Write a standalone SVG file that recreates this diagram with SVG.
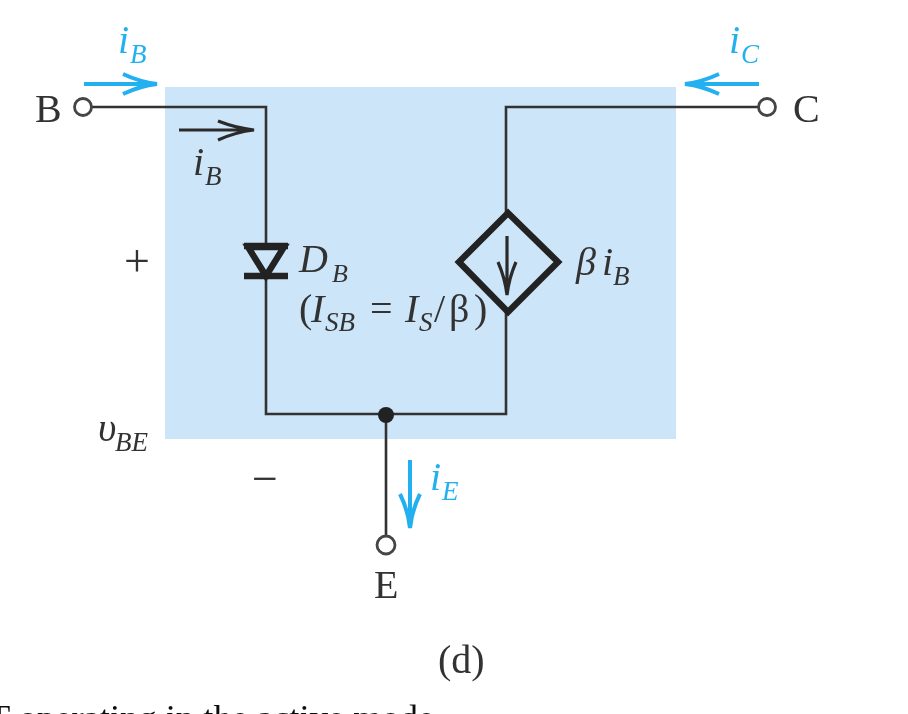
<svg xmlns="http://www.w3.org/2000/svg" width="908" height="714" viewBox="0 0 908 714">
<defs><filter id="soft" x="-5%" y="-5%" width="110%" height="110%"><feGaussianBlur stdDeviation="0.6"/></filter></defs>
<style>
.t{font-family:"Liberation Serif","Times New Roman",serif;fill:#333}
.i{font-style:italic}
.c{fill:#22b0f0}
.w{fill:none;stroke:#333;stroke-width:2.6}
.h{fill:none;stroke:#222;stroke-width:6.4;stroke-linejoin:miter}
.b{fill:none;stroke:#22b0f0;stroke-width:4}
.k{fill:none;stroke:#2a2a2a;stroke-width:3.2}
.o{fill:#fff;stroke:#444;stroke-width:2.8}
</style>
<g filter="url(#soft)">
<rect id="region" x="165" y="87" width="511" height="352" fill="#cde5f8"/>
<g id="connectors">
<path class="w" d="M92 107H266V245M266 278V414H506V312M506 212V107H759"/>
<path class="w" d="M386 414V536"/>
</g>
<g id="current-arrows">
<path class="b" d="M84 84H156M123 74Q140 82 157 84Q140 86 123 94"/>
<path class="b" d="M759 84H687M719 74Q702 82 685 84Q702 86 719 94"/>
<path class="b" d="M410 460V527M400 494Q408 510 410 528Q412 510 420 494"/>
<path class="k" d="M179 130H252M218 121Q236 128 254 130Q236 132 218 140"/>
<path class="k" d="M507 236V294M498 262Q505 278 507 295Q509 278 516 262"/>
</g>
<g id="node-B"><circle class="o" cx="83" cy="107" r="8.5"/><text class="t" x="35" y="122" font-size="40">B</text></g>
<g id="node-C"><circle class="o" cx="767" cy="107" r="8.5"/><text class="t" x="793" y="122" font-size="40">C</text></g>
<g id="node-E"><circle class="o" cx="386" cy="545" r="9"/><text class="t" x="374" y="598" font-size="40">E</text></g>
<g id="junction"><circle cx="386" cy="415" r="8" fill="#222"/></g>
<g id="diode-DB">
<path class="h" d="M244 246H288M266 276L248 247H284Z"/>
<path class="h" d="M244 276H288"/>
<text class="t i" x="299" y="272" font-size="40">D<tspan x="332" y="282" font-size="26">B</tspan></text>
<text class="t" y="322" font-size="40"><tspan x="299">(</tspan><tspan class="i" x="311">I</tspan><tspan class="i" x="325" y="331" font-size="27">SB</tspan><tspan x="370" y="322">=</tspan><tspan class="i" x="405">I</tspan><tspan class="i" x="419" y="331" font-size="27">S</tspan><tspan x="434" y="322">/</tspan><tspan x="449">β</tspan><tspan x="474">)</tspan></text>
</g>
<g id="source">
<path class="h" d="M508 213L558 262L508 312L459 262Z"/>
<text class="t i" y="275" font-size="40"><tspan x="576">β</tspan><tspan x="602">i</tspan><tspan x="613" y="285" font-size="27">B</tspan></text>
</g>
<g id="labels">
<text class="c i" font-family="Liberation Serif" y="53" font-size="40"><tspan x="118">i</tspan><tspan x="130" y="63" font-size="27">B</tspan></text>
<text class="c i" font-family="Liberation Serif" y="53" font-size="40"><tspan x="729">i</tspan><tspan x="741" y="63" font-size="27">C</tspan></text>
<text class="c i" font-family="Liberation Serif" y="490" font-size="40"><tspan x="430">i</tspan><tspan x="442" y="500" font-size="27">E</tspan></text>
<text class="t i" y="175" font-size="40"><tspan x="193">i</tspan><tspan x="205" y="185" font-size="27">B</tspan></text>
<text class="t i" y="441" font-size="40"><tspan x="98">υ</tspan><tspan x="115" y="451" font-size="27">BE</tspan></text>
<text class="t" x="124" y="276" font-size="46">+</text>
<text class="t" x="252" y="494" font-size="46">−</text>
<text class="t" x="438" y="673" font-size="40">(d)</text>
<text x="-12" y="730" font-size="36.5" font-family="Liberation Serif" fill="#111">T operating in the active mode.</text>
</g>
</g>
</svg>
